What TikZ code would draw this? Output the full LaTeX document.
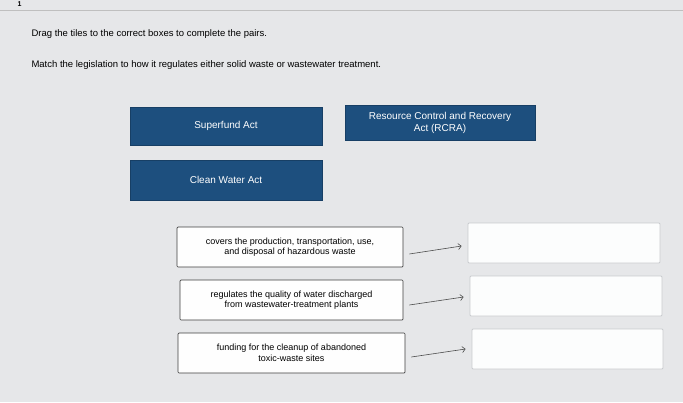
\documentclass[tikz,border=0pt]{standalone}
\usepackage{fontspec}
\setmainfont{Liberation Sans}
\usetikzlibrary{arrows.meta}
\definecolor{bg}{HTML}{E6E7E9}
\definecolor{tile}{HTML}{1D4F7E}
\definecolor{lbord}{HTML}{C9CBCE}
\begin{document}
\begin{tikzpicture}[x=1pt,y=-1pt,
  tilestyle/.style={fill=tile,draw=tile!80!black,text=white,minimum width=#1,font=\fontsize{10}{12}\selectfont,align=center,inner sep=2pt},
  qbox/.style={draw=black!75,fill=white!97!bg,rounded corners=1pt,line width=0.7pt,font=\fontsize{9}{10.5}\selectfont,align=center},
  abox/.style={draw=lbord,fill=white!90!bg,rounded corners=1pt,line width=0.8pt},
  conn/.style={-{Straight Barb[length=3pt]},black!70,line width=0.6pt}]
\useasboundingbox (0,0) rectangle (683,402);
\fill[bg] (0,0) rectangle (683,402);
\draw[black!25] (0,10) -- (683,10);
\node[font=\bfseries\fontsize{7}{8}\selectfont,anchor=west] (num) at (14,4) {1};
\node[anchor=west,font=\fontsize{9.5}{11}\selectfont] (t1) at (28,34) {Drag the tiles to the correct boxes to complete the pairs.};
\node[anchor=west,font=\fontsize{9.5}{11}\selectfont] (t2) at (28,65) {Match the legislation to how it regulates either solid waste or wastewater treatment.};
\node[tilestyle, minimum width=192pt, minimum height=38pt] (sf) at (226,126) {Superfund Act};
\node[tilestyle, minimum width=190pt, minimum height=35pt] (rc) at (440,122.5) {Resource Control and Recovery\\Act (RCRA)};
\node[tilestyle, minimum width=192pt, minimum height=40pt] (cw) at (226,180) {Clean Water Act};
\node[qbox,minimum width=226pt,minimum height=40pt] (q1) at (290,247) {covers the production, transportation, use,\\and disposal of hazardous waste};
\node[qbox,minimum width=223pt,minimum height=40pt] (q2) at (291.5,300) {regulates the quality of water discharged\\from wastewater-treatment plants};
\node[qbox,minimum width=227pt,minimum height=40pt] (q3) at (291.5,353) {funding for the cleanup of abandoned\\toxic-waste sites};
\node[abox,minimum width=192pt,minimum height=40pt] (a1) at (564,243) {};
\node[abox,minimum width=192pt,minimum height=40pt] (a2) at (566,296) {};
\node[abox,minimum width=191pt,minimum height=40pt] (a3) at (567.5,349) {};
\draw[conn] ([xshift=6pt,yshift=-7pt]q1.east) -- ([xshift=-6pt,yshift=-3pt]a1.west);
\draw[conn] ([xshift=6pt,yshift=-5pt]q2.east) -- ([xshift=-6pt,yshift=-1pt]a2.west);
\draw[conn] ([xshift=6pt,yshift=-4pt]q3.east) -- ([xshift=-6pt,yshift=0pt]a3.west);
\end{tikzpicture}
\end{document}
